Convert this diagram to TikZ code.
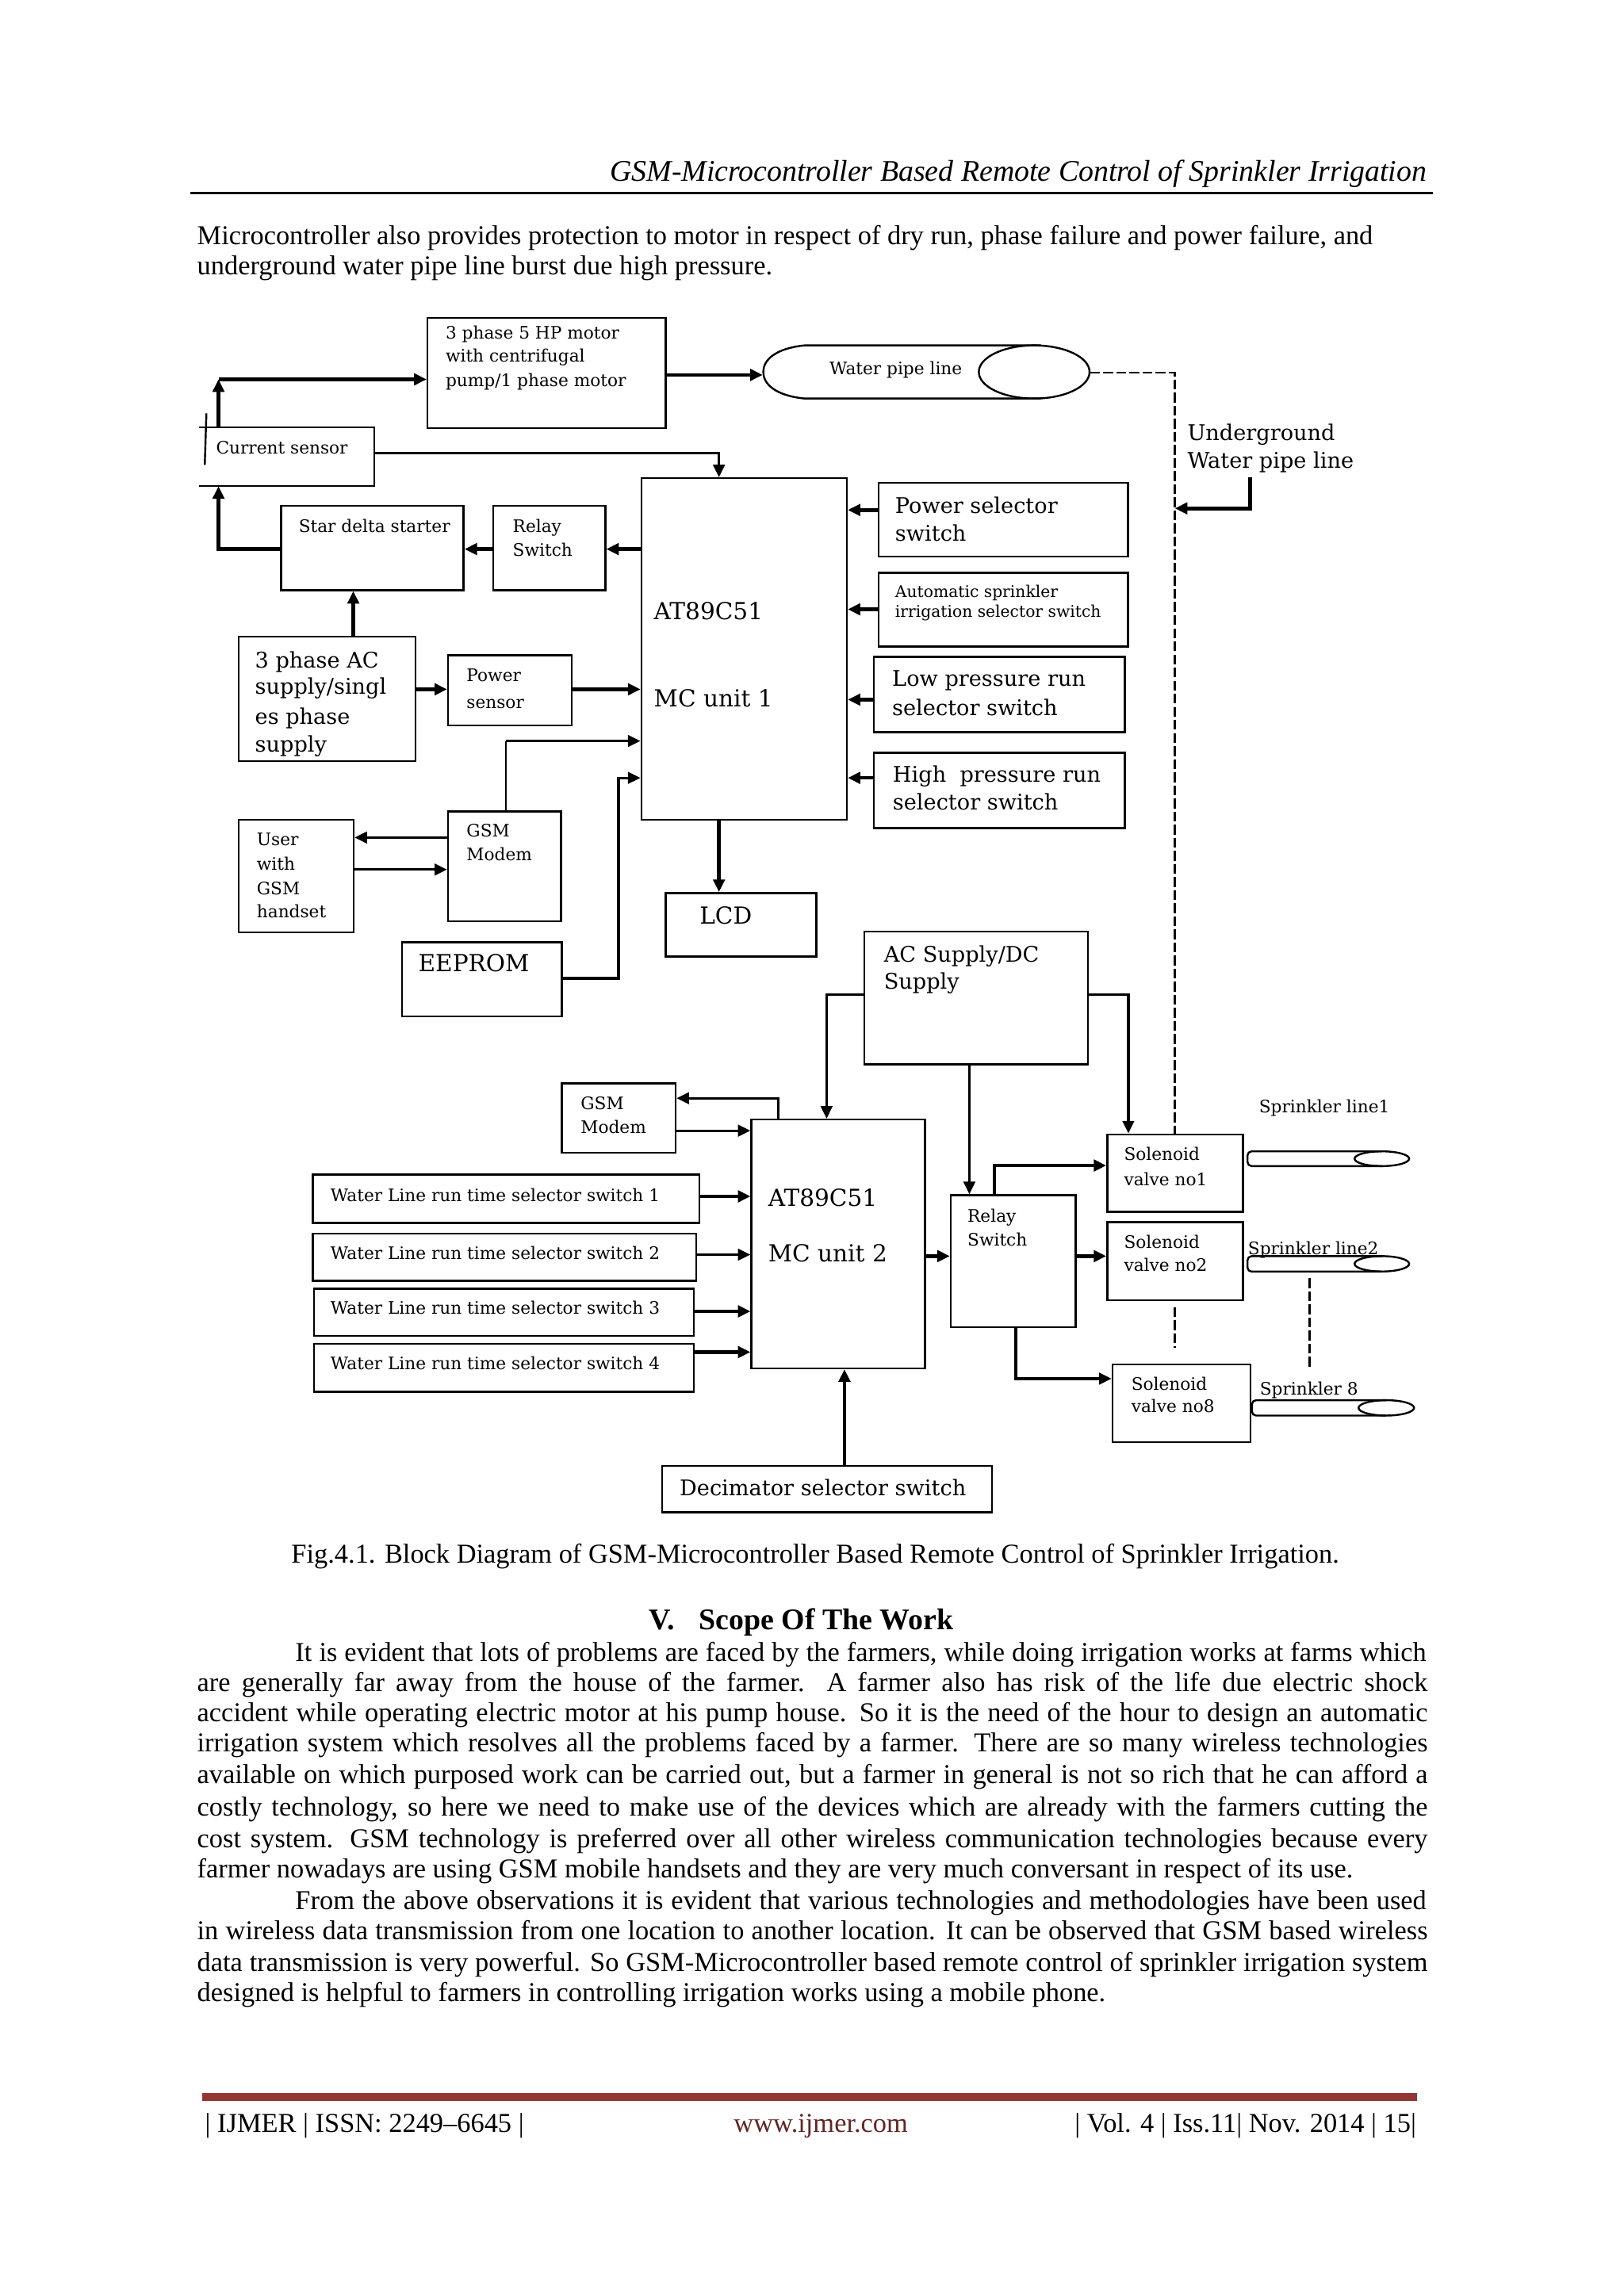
\documentclass[tikz,border=0pt]{standalone}
\usepackage{fontspec}
\setmainfont{Liberation Serif}
\newfontfamily\dgm{DejaVu Serif}
\usetikzlibrary{arrows.meta,fit}
\definecolor{barred}{HTML}{943634}
\definecolor{urlred}{HTML}{632523}
\begin{document}
\begin{tikzpicture}[x=0.5412pt,y=-0.5412pt,
  box/.style={draw, line width=0.7pt, inner sep=0pt},
  hid/.style={inner sep=0pt},
  sm/.style={font=\dgm\fontsize{6.3}{7.5}\selectfont, anchor=base west, inner sep=0pt},
  xs/.style={font=\dgm\fontsize{5.9}{7}\selectfont, anchor=base west, inner sep=0pt},
  lg/.style={font=\dgm\fontsize{7.9}{9}\selectfont, anchor=base west, inner sep=0pt},
  lgc/.style={font=\dgm\fontsize{8.6}{9.5}\selectfont, anchor=base west, inner sep=0pt},
  pg/.style={font=\fontsize{10}{11.6}\selectfont, anchor=base west, inner sep=0pt},
  tip/.style={-{Triangle[length=4.6pt,width=4.2pt]}},
  thk/.style={line width=1.35pt},
  med/.style={line width=0.95pt},
  thn/.style={line width=0.6pt},
  dsh/.style={line width=0.8pt, dash pattern=on 3.6pt off 1.2pt}]
\useasboundingbox (0,0) rectangle (1100,1555.5);
\fill[white] (0,0) rectangle (1100,1555.5);

% ---------- page header ----------
\node[font=\fontsize{11}{13}\selectfont\itshape, anchor=base east, inner sep=0pt] (hdr) at (966.8,122.6) {GSM-Microcontroller Based Remote Control of Sprinkler Irrigation};
\draw[line width=1pt] (129,130.7) -- (970.6,130.7);
\node[pg] (p1) at (133.2,165.6) {Microcontroller also provides protection to motor in respect of dry run, phase failure and power failure, and};
\node[pg] (p2) at (133.2,186.2) {underground water pipe line burst due high pressure.};

% ---------- boxes ----------
\node[box, fit={(289.6,215.4)(451,290)}] (motor) {};
\node[hid, fit={(135.4,290)(253,329)}] (cs) {};
\draw[line width=0.7pt] (cs.north west) -- (cs.north east) -- (cs.south east) -- (cs.south west);
\coordinate (csa) at (139.8,280); \coordinate (csb) at (138.7,315);
\draw[line width=0.7pt] (csa) -- (csb);
\node[box, fit={(190.5,342.7)(314,399.8)}] (sd) {};
\node[box, fit={(334,342.7)(410,399.8)}] (rl1) {};
\node[box, fit={(161.8,431.3)(281.3,515.6)}] (ac3) {};
\node[box, fit={(303.5,444)(387.3,491.5)}] (ps) {};
\node[box, fit={(434.5,324)(573.6,555.4)}] (mc1) {};
\node[box, fit={(595,327)(764,377)}] (pss) {};
\node[box, fit={(595,388)(764,438)}] (auto) {};
\node[box, fit={(592,445)(762,496)}] (low) {};
\node[box, fit={(592,510)(762,561)}] (high) {};
\node[box, fit={(161.8,555.4)(239.5,631.5)}] (user) {};
\node[box, fit={(303.5,549.8)(380,624)}] (gsm1) {};
\node[box, fit={(272.4,638.4)(380.5,688.6)}] (ee) {};
\node[box, fit={(451,605)(553,648)}] (lcd) {};
\node[box, fit={(585.6,631)(737,721)}] (acdc) {};
\node[box, fit={(380.5,734)(457.6,781)}] (gsm2) {};
\node[box, fit={(509,758.5)(626.6,927)}] (mc2) {};
\node[box, fit={(211.8,795.7)(473.7,828.5)}] (wl1) {};
\node[box, fit={(212,835.6)(471.7,867.8)}] (wl2) {};
\node[box, fit={(212.7,873)(470,905)}] (wl3) {};
\node[box, fit={(212.7,910.4)(470,943)}] (wl4) {};
\node[box, fit={(448.6,993)(672,1024.5)}] (dec) {};
\node[box, fit={(644,809.7)(728.7,899)}] (rl2) {};
\node[box, fit={(750,768.5)(842,821)}] (sol1) {};
\node[box, fit={(750,828)(842,881)}] (sol2) {};
\node[box, fit={(753.6,924.5)(847,977)}] (sol8) {};

% water pipe line
\node[hid, fit={(517,234)(738,270)}] (pipe) {};
\draw[line width=0.7pt] (705,234) -- (545,234) .. controls (525,236) and (517,244) .. (517,252) .. controls (517,260) and (525,268) .. (545,270) -- (705,270);
\draw[line width=0.7pt] (700.5,252) ellipse [x radius=37.5, y radius=18];

% sprinkler pipes
\draw[line width=0.7pt, rounded corners=1.5pt] (936,780) -- (845,780) -- (845,790) -- (936,790);
\draw[line width=0.7pt] (936,785) ellipse [x radius=18.5, y radius=5];
\draw[line width=0.7pt, rounded corners=1.5pt] (936,851) -- (845,851) -- (845,861.5) -- (936,861.5);
\draw[line width=0.7pt] (936,856.2) ellipse [x radius=18.5, y radius=5.2];
\draw[line width=0.7pt, rounded corners=1.5pt] (939,948.6) -- (848,948.6) -- (848,959) -- (939,959);
\draw[line width=0.7pt] (939,953.8) ellipse [x radius=18.8, y radius=5.2];

% ---------- texts in diagram ----------
\node[sm] (mt1) at (301.5,229.4) {3 phase 5 HP motor};
\node[sm] (mt2) at (301.5,245.3) {with centrifugal};
\node[sm] (mt3) at (301.5,262) {pump/1 phase motor};
\node[sm] (cst) at (146,307.5) {Current sensor};
\node[sm] (sdt) at (202,360.7) {Star delta starter};
\node[sm] (rl1a) at (347,360.7) {Relay};
\node[sm] (rl1b) at (347,377) {Switch};
\node[lg] (ac3a) at (172.4,452.6) {3 phase AC};
\node[lg] (ac3b) at (172.4,470.5) {supply/singl};
\node[lg] (ac3c) at (172.4,490.4) {es phase};
\begin{scope}
\clip (161.8,431.3) rectangle (281.3,514.5);
\node[lg] (ac3d) at (172.4,509.7) {supply};
\end{scope}
\node[sm] (psa) at (315.7,461.7) {Power};
\node[sm] (psb) at (315.7,480) {sensor};
\node[lgc] (mc1a) at (442.6,420) {AT89C51};
\node[lgc] (mc1b) at (442.6,479) {MC unit 1};
\node[sm] (pipet) at (561.5,254) {Water pipe line};
\node[lg] (uga) at (804,298.6) {Underground};
\node[lg] (ugb) at (804,317.4) {Water pipe line};
\node[lg] (pssa) at (606,347.7) {Power selector};
\node[lg] (pssb) at (606,366.6) {switch};
\node[xs] (autoa) at (606,404.5) {Automatic sprinkler};
\node[xs] (autob) at (606,418.4) {irrigation selector switch};
\node[lg] (lowa) at (604,464.7) {Low pressure run};
\node[lg] (lowb) at (604,484.5) {selector switch};
\node[lg] (higha) at (604.4,530) {High\ \ pressure run};
\node[lg] (highb) at (604.4,548.6) {selector switch};
\node[sm] (usa) at (173.6,573) {User};
\node[sm] (usb) at (173.6,589.5) {with};
\node[sm] (usc) at (173.6,606) {GSM};
\node[sm] (usd) at (173.6,621.5) {handset};
\node[sm] (g1a) at (315.7,567) {GSM};
\node[sm] (g1b) at (315.7,583) {Modem};
\node[lgc] (eet) at (283,658.5) {EEPROM};
\node[lgc] (lcdt) at (473.5,625.8) {LCD};
\node[lg] (acda) at (598.4,651.8) {AC Supply/DC};
\node[lg] (acdb) at (598.4,670) {Supply};
\node[sm] (g2a) at (393,751.5) {GSM};
\node[sm] (g2b) at (393,768) {Modem};
\node[lgc] (mc2a) at (520,817.4) {AT89C51};
\node[lgc] (mc2b) at (520,854.6) {MC unit 2};
\node[sm] (wl1t) at (223.6,814) {Water Line run time selector switch 1};
\node[sm] (wl2t) at (223.6,853) {Water Line run time selector switch 2};
\node[sm] (wl3t) at (223.6,890) {Water Line run time selector switch 3};
\node[sm] (wl4t) at (223.6,927.6) {Water Line run time selector switch 4};
\node[lg] (dect) at (460,1013) {Decimator selector switch};
\node[sm] (rl2a) at (655,827.7) {Relay};
\node[sm] (rl2b) at (655,844) {Switch};
\node[sm] (s1a) at (761,786) {Solenoid};
\node[sm] (s1b) at (761,803) {valve no1};
\node[sm] (s2a) at (761,845.7) {Solenoid};
\node[sm] (s2b) at (761,861.5) {valve no2};
\node[sm] (s8a) at (766,942) {Solenoid};
\node[sm] (s8b) at (766,957) {valve no8};
\node[sm] (sp1) at (852.5,754) {Sprinkler line1};
\node[sm] (sp2) at (845,850) {Sprinkler line2};
\node[sm] (sp8) at (853,945) {Sprinkler 8};

% ---------- connectors ----------
\coordinate (j1) at (148,257);
\draw[thk,tip] (cs.north -| j1) -- (j1);
\draw[thk,tip] (j1) -- (motor.west |- j1);
\coordinate (j2) at (487,307);
\draw[med,tip] (cs.east |- j2) -- (j2) -- (mc1.north -| j2);
\coordinate (j3) at (148,372);
\draw[thk,tip] (sd.west |- j3) -- (j3) -- (cs.south -| j3);
\draw[thk,tip] (rl1.west |- j3) -- (sd.east |- j3);
\draw[thk,tip] (mc1.west |- j3) -- (rl1.east |- j3);
\coordinate (x239) at (239.3,0);
\draw[thk,tip] (ac3.north -| x239) -- (sd.south -| x239);
\coordinate (y467) at (0,467);
\draw[thk,tip] (ac3.east |- y467) -- (ps.west |- y467);
\draw[thk,tip] (ps.east |- y467) -- (mc1.west |- y467);
\coordinate (j4) at (342.7,502);
\draw[thn] (gsm1.north -| j4) -- (j4);
\draw[med,tip] (j4) -- (mc1.west |- j4);
\coordinate (j5) at (419,662.8); \coordinate (j6) at (419,527);
\draw[med,tip] (ee.east |- j5) -- (j5) -- (j6) -- (mc1.west |- j6);
\coordinate (ya) at (0,345.5); \coordinate (yb) at (0,412.8);
\coordinate (yc) at (0,474); \coordinate (yd) at (0,527);
\draw[thk,tip] (pss.west |- ya) -- (mc1.east |- ya);
\draw[thk,tip] (auto.west |- yb) -- (mc1.east |- yb);
\draw[thk,tip] (low.west |- yc) -- (mc1.east |- yc);
\draw[thk,tip] (high.west |- yd) -- (mc1.east |- yd);
\coordinate (x487) at (487,0);
\draw[thk,tip] (mc1.south -| x487) -- (lcd.north -| x487);
\coordinate (y567) at (0,567.4); \coordinate (y589) at (0,589.1);
\draw[med,tip] (gsm1.west |- y567) -- (user.east |- y567);
\draw[med,tip] (user.east |- y589) -- (gsm1.west |- y589);
\coordinate (y254) at (0,254);
\draw[thk,tip] (motor.east |- y254) -- (pipe.west |- y254);
\coordinate (j7) at (795.8,252.5);
\draw[dsh] (pipe.east |- j7) -- (j7) -- (sol1.north -| j7);
\coordinate (j8) at (846.9,323.4); \coordinate (j9) at (846.9,344.4);
\draw[thk,tip] (j8) -- (j9) -- (j7 |- j9);
\coordinate (j10) at (559.9,673.9);
\draw[med,tip] (acdc.west |- j10) -- (j10) -- (mc2.north -| j10);
\coordinate (j11) at (764.3,673.9);
\draw[med,tip] (acdc.east |- j11) -- (j11) -- (sol1.north -| j11);
\coordinate (x656) at (656.6,0);
\draw[med,tip] (acdc.south -| x656) -- (rl2.north -| x656);
\coordinate (j12) at (527,744);
\draw[med,tip] (mc2.north -| j12) -- (j12) -- (gsm2.east |- j12);
\coordinate (y766) at (0,766);
\draw[med,tip] (gsm2.east |- y766) -- (mc2.west |- y766);
\coordinate (w1) at (0,810.5); \coordinate (w2) at (0,850);
\coordinate (w3) at (0,888.4); \coordinate (w4) at (0,916);
\draw[thk,tip] (wl1.east |- w1) -- (mc2.west |- w1);
\draw[med,tip] (wl2.east |- w2) -- (mc2.west |- w2);
\draw[thk,tip] (wl3.east |- w3) -- (mc2.west |- w3);
\draw[thk,tip] (wl4.east |- w4) -- (mc2.west |- w4);
\coordinate (x572) at (572,0);
\draw[thk,tip] (dec.north -| x572) -- (mc2.south -| x572);
\coordinate (y851) at (0,851);
\draw[thk,tip] (mc2.east |- y851) -- (rl2.west |- y851);
\coordinate (j13) at (673.6,789.6);
\draw[thk,tip] (rl2.north -| j13) -- (j13) -- (sol1.west |- j13);
\draw[thk,tip] (rl2.east |- y851) -- (sol2.west |- y851);
\coordinate (j14) at (688,934);
\draw[med,tip] (rl2.south -| j14) -- (j14) -- (sol8.west |- j14);
\coordinate (d1) at (795.8,885.5); \coordinate (d2) at (795.8,913);
\draw[dsh] (d1) -- (d2);
\coordinate (d3) at (887,866); \coordinate (d4) at (887,926);
\draw[dsh] (d3) -- (d4);

% ---------- caption and body ----------
\node[pg] (cap) at (197,1059) {Fig.4.1. Block Diagram of GSM-Microcontroller Based Remote Control of Sprinkler Irrigation.};
\node[font=\fontsize{11}{13}\selectfont\bfseries, anchor=base west, inner sep=0pt] (sec) at (439.5,1103.8) {V.\hspace{9pt}Scope Of The Work};
\node[pg] (b1) at (199.7,1125.3) {\makebox[414.6pt][s]{It is evident that lots of problems are faced by the farmers, while doing irrigation works at farms which}};
\node[pg] (b2) at (133.2,1145.8) {\makebox[451.1pt][s]{are generally far away from the house of the farmer. A farmer also has risk of the life due electric shock}};
\node[pg] (b3) at (133.2,1166.4) {\makebox[451.1pt][s]{accident while operating electric motor at his pump house. So it is the need of the hour to design an automatic}};
\node[pg] (b4) at (133.2,1187) {\makebox[451.1pt][s]{irrigation system which resolves all the problems faced by a farmer. There are so many wireless technologies}};
\node[pg] (b5) at (133.2,1208.5) {\makebox[451.1pt][s]{available on which purposed work can be carried out, but a farmer in general is not so rich that he can afford a}};
\node[pg] (b6) at (133.2,1230) {\makebox[451.1pt][s]{costly technology, so here we need to make use of the devices which are already with the farmers cutting the}};
\node[pg] (b7) at (133.2,1251.5) {\makebox[451.1pt][s]{cost system. GSM technology is preferred over all other wireless communication technologies because every}};
\node[pg] (b8) at (133.2,1272) {farmer nowadays are using GSM mobile handsets and they are very much conversant in respect of its use.};
\node[pg] (b9) at (199.7,1293.4) {\makebox[414.6pt][s]{From the above observations it is evident that various technologies and methodologies have been used}};
\node[pg] (b10) at (133.2,1314) {\makebox[451.1pt][s]{in wireless data transmission from one location to another location. It can be observed that GSM based wireless}};
\node[pg] (b11) at (133.2,1335.6) {\makebox[451.1pt][s]{data transmission is very powerful. So GSM-Microcontroller based remote control of sprinkler irrigation system}};
\node[pg] (b12) at (133.2,1356) {designed is helpful to farmers in controlling irrigation works using a mobile phone.};

% ---------- footer ----------
\fill[barred] (137,1418) rectangle (960,1423.6);
\node[pg] (f1) at (138.6,1444.8) {| IJMER | ISSN: 2249–6645 |};
\node[pg, anchor=base, text=urlred] (f2) at (556,1444.8) {www.ijmer.com};
\node[pg, anchor=base east] (f3) at (959.7,1444.8) {| Vol. 4 | Iss.11| Nov. 2014 | 15|};
\end{tikzpicture}
\end{document}
